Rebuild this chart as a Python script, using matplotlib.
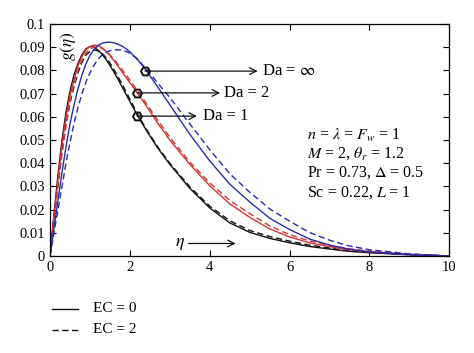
import matplotlib
matplotlib.use("Agg")
import matplotlib.pyplot as plt
from matplotlib.lines import Line2D

plt.rcParams['font.family'] = ['Liberation Serif', 'DejaVu Serif']
plt.rcParams['mathtext.fontset'] = 'stix'

eta = [0, 0.1, 0.2, 0.3, 0.4, 0.5, 0.6, 0.7, 0.8, 0.9, 1.0, 1.1, 1.2, 1.3, 1.4, 1.5,
       1.6, 1.7, 1.8, 1.9, 2.0, 2.2, 2.4, 2.7, 3.0, 3.5, 4.0, 4.5, 5.0, 5.5, 6.0, 6.5,
       7.0, 7.5, 8.0, 9.0, 10.0]

# Da = 1 (black)
g_da1_ec0 = [0, .018, .035, .050, .062, .071, .078, .083, .0868, .0893, .0903, .0900, .0888, .0870,
             .0848, .0822, .0793, .0763, .0731, .0698, .0666, .0603, .0545, .0465, .0395, .0292,
             .0207, .0143, .0102, .0076, .0057, .0041, .0030, .0020, .0014, .0005, 0]
g_da1_ec2 = [0, .016, .031, .045, .057, .066, .073, .079, .0835, .0866, .0882, .0888, .0885, .0874,
             .0856, .0832, .0804, .0774, .0742, .0709, .0676, .0610, .0550, .0470, .0400, .0298,
             .0215, .0152, .0110, .0084, .0064, .0047, .0034, .0023, .0016, .0006, 0]
# Da = 2 (red)
g_da2_ec0 = [0, .017, .033, .048, .060, .069, .076, .082, .086, .0889, .0903, .0909, .0907, .0898,
             .0883, .0864, .0842, .0819, .0795, .0771, .0747, .0700, .0650, .0572, .0500, .0395,
             .0303, .0225, .0167, .0117, .0082, .0057, .0040, .0027, .0018, .0007, 0]
g_da2_ec2 = [0, .015, .030, .044, .056, .066, .074, .080, .0845, .0875, .0893, .0900, .0901, .0895,
             .0883, .0867, .0848, .0827, .0805, .0782, .0758, .0710, .0660, .0585, .0512, .0405,
             .0315, .0240, .0183, .0130, .0092, .0065, .0046, .0031, .0021, .0008, 0]
# Da = inf (blue)
g_dainf_ec0 = [0, .012, .024, .036, .047, .057, .065, .072, .078, .0828, .0865, .0890, .0907, .0917,
               .0921, .0922, .0919, .0913, .0905, .0894, .0880, .0845, .0802, .0728, .0652, .0525,
               .0410, .0310, .0233, .0163, .0114, .0073, .0047, .0029, .0018, .0006, 0]
g_dainf_ec2 = [0, .010, .020, .030, .040, .049, .057, .064, .070, .075, .079, .0822, .0848, .0866,
               .0878, .0885, .0888, .0889, .0887, .0882, .0874, .0848, .0808, .0745, .0683, .0570,
               .0458, .0355, .0275, .0203, .0150, .0101, .0068, .0043, .0027, .0009, 0]

xticks = [0, 2, 4, 6, 8, 10]
yticks = [0, 0.01, 0.02, 0.03, 0.04, 0.05, 0.06, 0.07, 0.08, 0.09, 0.1]
ytick_labels = ['0', '0.01', '0.02', '0.03', '0.04', '0.05', '0.06', '0.07', '0.08', '0.09', '0.1']

BLACK = '#111111'
RED = '#d03535'
BLUE = '#2a2ab0'
DASH = (4.5, 2.5)

fig = plt.figure(figsize=(4.74, 3.53), dpi=100)
ax = fig.add_axes([0.1055, 0.2748, 0.8425, 0.6572])

lw = 1.0
ax.plot(eta, g_da1_ec0, color=BLACK, lw=lw)
ax.plot(eta, g_da1_ec2, color=BLACK, lw=lw, dashes=DASH)
ax.plot(eta, g_da2_ec0, color=RED, lw=lw)
ax.plot(eta, g_da2_ec2, color=RED, lw=lw, dashes=DASH)
ax.plot(eta, g_dainf_ec0, color=BLUE, lw=lw)
ax.plot(eta, g_dainf_ec2, color=BLUE, lw=lw, dashes=DASH)

ax.set_xlim(0, 10)
ax.set_ylim(0, 0.1)
ax.set_xticks(xticks)
ax.set_xticklabels([str(t) for t in xticks])
ax.set_yticks(yticks)
ax.set_yticklabels(ytick_labels)
ax.tick_params(direction='in', top=True, right=True, labelsize=10.5, length=4, width=0.8)
for s in ax.spines.values():
    s.set_linewidth(0.9)

# Da annotations
ann = [(2.38, 0.0797, 5.2, 5.3, r'Da = $\infty$'),
       (2.18, 0.0703, 4.26, 4.36, 'Da = 2'),
       (2.18, 0.0603, 3.68, 3.83, 'Da = 1')]
for x0, y0, x1, xt, label in ann:
    ax.annotate('', xy=(x1, y0), xytext=(x0, y0),
                arrowprops=dict(arrowstyle='->', color=BLACK, lw=0.9, shrinkA=0, shrinkB=0,
                                mutation_scale=12))
    ax.plot([x0], [y0], marker='H', markersize=6.5, fillstyle='none', color=BLACK,
            markeredgewidth=1.4)
    ax.text(xt, y0, label, fontsize=12, va='center', ha='left')

# eta arrow
ax.text(3.25, 0.0056, r'$\eta$', fontsize=13, va='center', ha='center')
ax.annotate('', xy=(4.65, 0.0054), xytext=(3.47, 0.0054),
            arrowprops=dict(arrowstyle='->', color=BLACK, lw=0.9, shrinkA=0, shrinkB=0,
                            mutation_scale=12))

# y label inside
ax.text(0.45, 0.0905, r'$g(\eta)$', fontsize=12.5, rotation=90, va='center', ha='center')

# parameter block
params = [r'$n$ = $\lambda$ = $F_w$ = 1',
          r'$M$ = 2, $\theta_r$ = 1.2',
          r'Pr = 0.73, $\Delta$ = 0.5',
          r'Sc = 0.22, $L$ = 1']
py = [0.0520, 0.0442, 0.0361, 0.0272]
for t, yv in zip(params, py):
    ax.text(6.43, yv, t, fontsize=11.5, va='center', ha='left')

# legend below
fig.add_artist(Line2D([0.110, 0.165], [0.125, 0.125], color=BLACK, lw=1.0))
fig.add_artist(Line2D([0.110, 0.165], [0.066, 0.066], color=BLACK, lw=1.0, dashes=DASH))
fig.text(0.196, 0.125, 'EC = 0', fontsize=11, va='center', ha='left')
fig.text(0.196, 0.066, 'EC = 2', fontsize=11, va='center', ha='left')

fig.savefig('out.png', dpi=100)
